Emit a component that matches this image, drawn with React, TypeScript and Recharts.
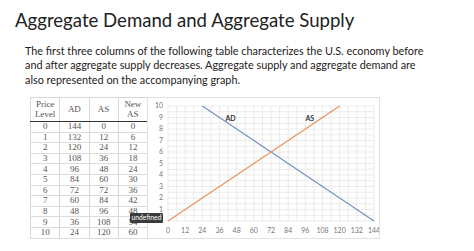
import { LineChart, Line, XAxis, YAxis, CartesianGrid } from 'recharts';

// table columns
const priceLevels = [0, 1, 2, 3, 4, 5, 6, 7, 8, 9, 10];
const adValues = [144, 132, 120, 108, 96, 84, 72, 60, 48, 36, 24];
const asValues = [0, 12, 24, 36, 48, 60, 72, 84, 96, 108, 120];
const newAsValues = [0, 6, 12, 18, 24, 30, 36, 42, 48, 54, 60];

// axis ticks (only every other one gets a label)
const xTicks = [0, 6, 12, 18, 24, 30, 36, 42, 48, 54, 60, 66, 72, 78, 84, 90, 96, 102, 108, 114, 120, 126, 132, 138, 144];
const yTicks = [0, 0.5, 1, 1.5, 2, 2.5, 3, 3.5, 4, 4.5, 5, 5.5, 6, 6.5, 7, 7.5, 8, 8.5, 9, 9.5, 10];

const adLine = priceLevels.map((p, i) => ({ q: adValues[i], price: p }));
const asLine = priceLevels.map((p, i) => ({ q: asValues[i], price: p }));

const cell: React.CSSProperties = {
  borderRight: '1px solid #d6d6d6',
  borderBottom: '1px solid #dcdcdc',
  textAlign: 'center',
  padding: 0,
  height: 9.6,
  lineHeight: '9px',
  width: '25%',
};

function DataTable() {
  return (
    <table
      style={{
        position: 'absolute',
        left: 30,
        top: 97,
        width: 118,
        tableLayout: 'fixed',
        borderCollapse: 'collapse',
        fontFamily: '"Liberation Serif", serif',
        fontSize: 9,
        color: '#555',
        border: '1px solid #d6d6d6',
      }}
    >
      <thead>
        <tr>
          {['Price Level', 'AD', 'AS', 'New AS'].map((h) => (
            <th
              key={h}
              style={{
                ...cell,
                fontWeight: 'normal',
                height: 23,
                lineHeight: '9.5px',
                borderBottom: '1.5px solid #333',
                padding: '0 3px',
              }}
            >
              {h}
            </th>
          ))}
        </tr>
      </thead>
      <tbody>
        {priceLevels.map((p, i) => (
          <tr key={p}>
            <td style={cell}>{p}</td>
            <td style={cell}>{adValues[i]}</td>
            <td style={cell}>{asValues[i]}</td>
            <td style={cell}>{newAsValues[i]}</td>
          </tr>
        ))}
      </tbody>
    </table>
  );
}

export default function App() {
  const tickStyle = { fill: '#777', fontSize: 7, fontFamily: 'Lato, sans-serif' };
  return (
    <div
      style={{
        position: 'absolute',
        left: 0,
        top: 0,
        width: 474,
        height: 251,
        background: '#fff',
        overflow: 'hidden',
      }}
    >
      <div
        style={{
          position: 'absolute',
          left: 15,
          top: 9,
          fontFamily: 'Lato, sans-serif',
          fontSize: 18.6,
          color: '#222',
          whiteSpace: 'nowrap',
        }}
      >
        Aggregate Demand and Aggregate Supply
      </div>
      <div
        style={{
          position: 'absolute',
          left: 25,
          top: 44,
          fontFamily: 'Lato, sans-serif',
          fontSize: 10.85,
          lineHeight: '14.3px',
          color: '#222',
          whiteSpace: 'nowrap',
        }}
      >
        The first three columns of the following table characterizes the U.S. economy before
        <br />
        and after aggregate supply decreases. Aggregate supply and aggregate demand are
        <br />
        also represented on the accompanying graph.
      </div>

      <DataTable />

      <div
        style={{
          position: 'absolute',
          left: 147,
          top: 97,
          width: 233,
          height: 142,
          border: '1px solid #e2e2e2',
          boxSizing: 'border-box',
        }}
      >
        <LineChart width={231} height={140} margin={{ top: 8, right: 5, bottom: 4, left: 5 }}>
          <CartesianGrid stroke="#e6e6e6" strokeWidth={0.8} />
          <XAxis
            type="number"
            dataKey="q"
            domain={[0, 144]}
            ticks={xTicks}
            interval={0}
            tickFormatter={(v: number) => (v % 12 === 0 ? String(v) : '')}
            axisLine={false}
            tickLine={false}
            tickSize={4}
            tickMargin={3}
            height={13}
            tick={tickStyle}
          />
          <YAxis
            type="number"
            dataKey="price"
            domain={[0, 10]}
            ticks={yTicks}
            interval={0}
            tickFormatter={(v: number) => (Number.isInteger(v) ? String(v) : '')}
            axisLine={false}
            tickLine={false}
            tickSize={3}
            tickMargin={2}
            width={15}
            tick={tickStyle}
          />
          <Line
            data={adLine}
            dataKey="price"
            stroke="#7093bf"
            strokeWidth={1.2}
            dot={false}
            isAnimationActive={false}
            label={(props: any) =>
              props.index === 9 ? (
                <text key="ad" x={props.x + 6} y={props.y + 3} fontSize={7} fontWeight="bold" fill="#333" fontFamily="Lato, sans-serif">
                  AD
                </text>
              ) : null
            }
          />
          <Line
            data={asLine}
            dataKey="price"
            stroke="#e9925a"
            strokeWidth={1.2}
            dot={false}
            isAnimationActive={false}
            label={(props: any) =>
              props.index === 9 ? (
                <text key="as" x={props.x - 17} y={props.y + 3} fontSize={7} fontWeight="bold" fill="#333" fontFamily="Lato, sans-serif">
                  AS
                </text>
              ) : null
            }
          />
        </LineChart>
      </div>

      <div
        style={{
          position: 'absolute',
          left: 130,
          top: 213,
          width: 33,
          height: 9.5,
          background: '#3b3b3b',
          color: '#fff',
          fontFamily: 'Lato, sans-serif',
          fontSize: 6.8,
          lineHeight: '9.5px',
          textAlign: 'center',
          borderRadius: 1,
        }}
      >
        undefined
      </div>
    </div>
  );
}
